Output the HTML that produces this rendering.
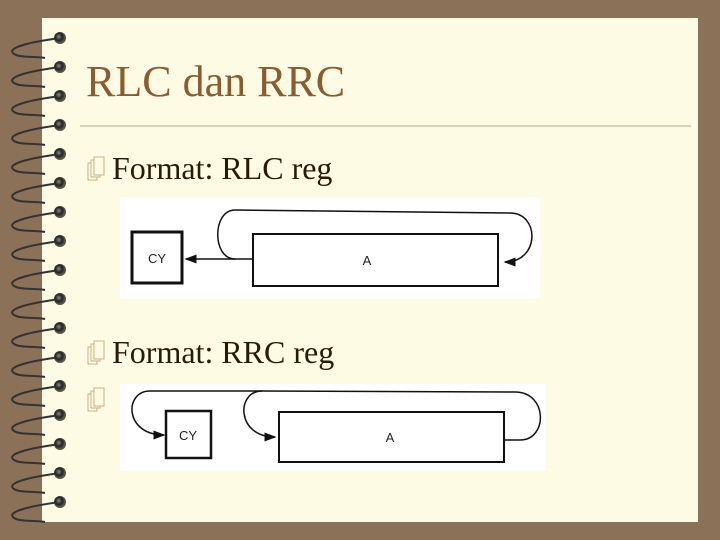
<!DOCTYPE html>
<html><head><style>
body{margin:0;width:720px;height:540px;background:#8c7159;position:relative;overflow:hidden;font-family:"Liberation Serif",serif}
.page{position:absolute;left:42px;top:18px;width:656px;height:504px;background:#fdfbe4}
.t{position:absolute;white-space:nowrap}
</style></head><body>
<div class="page"></div>
<svg width="720" height="540" style="position:absolute;left:0;top:0">
<defs><radialGradient id="b" cx="0.4" cy="0.4"><stop offset="0" stop-color="#888"/><stop offset="0.6" stop-color="#222"/><stop offset="1" stop-color="#554"/></radialGradient>
<marker id="ar" markerWidth="8" markerHeight="6" refX="7" refY="3" orient="auto"><path d="M0,0L8,3L0,6z" fill="#111"/></marker></defs>
<g fill="none" stroke="#333" stroke-width="2">
<path d="M60,38 C30,42 5,48 14,54 C20,58 35,56 45,58"/><path d="M60,67 C30,71 5,77 14,83 C20,87 35,85 45,87"/><path d="M60,96 C30,100 5,106 14,112 C20,116 35,114 45,116"/><path d="M60,125 C30,129 5,135 14,141 C20,145 35,143 45,145"/><path d="M60,154 C30,158 5,164 14,170 C20,174 35,172 45,174"/><path d="M60,183 C30,187 5,193 14,199 C20,203 35,201 45,203"/><path d="M60,212 C30,216 5,222 14,228 C20,232 35,230 45,232"/><path d="M60,241 C30,245 5,251 14,257 C20,261 35,259 45,261"/><path d="M60,270 C30,274 5,280 14,286 C20,290 35,288 45,290"/><path d="M60,299 C30,303 5,309 14,315 C20,319 35,317 45,319"/><path d="M60,328 C30,332 5,338 14,344 C20,348 35,346 45,348"/><path d="M60,357 C30,361 5,367 14,373 C20,377 35,375 45,377"/><path d="M60,386 C30,390 5,396 14,402 C20,406 35,404 45,406"/><path d="M60,415 C30,419 5,425 14,431 C20,435 35,433 45,435"/><path d="M60,444 C30,448 5,454 14,460 C20,464 35,462 45,464"/><path d="M60,473 C30,477 5,483 14,489 C20,493 35,491 45,493"/><path d="M60,502 C30,506 5,512 14,518 C20,522 35,520 45,522"/>
</g>
<g fill="url(#b)">
<circle cx="60" cy="38" r="6"/><circle cx="60" cy="67" r="6"/><circle cx="60" cy="96" r="6"/><circle cx="60" cy="125" r="6"/><circle cx="60" cy="154" r="6"/><circle cx="60" cy="183" r="6"/><circle cx="60" cy="212" r="6"/><circle cx="60" cy="241" r="6"/><circle cx="60" cy="270" r="6"/><circle cx="60" cy="299" r="6"/><circle cx="60" cy="328" r="6"/><circle cx="60" cy="357" r="6"/><circle cx="60" cy="386" r="6"/><circle cx="60" cy="415" r="6"/><circle cx="60" cy="444" r="6"/><circle cx="60" cy="473" r="6"/><circle cx="60" cy="502" r="6"/>
</g>
<line x1="80" y1="126" x2="691" y2="126" stroke="#b8a88a" stroke-width="1"/>
<rect x="120" y="197" width="420" height="102" fill="#fff"/>
<rect x="120" y="384" width="426" height="87" fill="#fff"/>
<g fill="none" stroke="#111">
<rect x="132" y="232" width="50" height="51" stroke-width="3"/>
<rect x="253" y="234" width="245" height="52" stroke-width="2"/>
<path d="M253,259 L186,259" stroke-width="1.5" marker-end="url(#ar)"/>
<path d="M235,259 C212,259 212,210 235,210 L510,213 C540,213 540,262 505,262" stroke-width="1.5" marker-end="url(#ar)"/>
<rect x="166" y="411" width="45" height="47" stroke-width="2.5"/>
<rect x="279" y="412" width="225" height="50" stroke-width="2"/>
<path d="M504,440 L520,440 C548,440 548,392 515,392 L262,391 C236,391 236,437 275,437" stroke-width="1.5" marker-end="url(#ar)"/>
<path d="M262,391 L150,391 C124,391 124,435 164,435" stroke-width="1.5" marker-end="url(#ar)"/>
</g>
<g font-family="Liberation Sans,sans-serif" font-size="13" fill="#222" text-anchor="middle">
<text x="157" y="263">CY</text><text x="367" y="265">A</text>
<text x="188" y="440">CY</text><text x="390" y="442">A</text>
</g>
<g fill="none" stroke="#c8b088" stroke-width="1">
<rect x="88" y="163" width="9" height="17"/><rect x="91" y="160" width="9" height="17" fill="#fdfbe4"/><rect x="94" y="157" width="10" height="18" fill="#fdfbe4"/>
<rect x="88" y="347" width="9" height="17"/><rect x="91" y="344" width="9" height="17" fill="#fdfbe4"/><rect x="94" y="341" width="10" height="18" fill="#fdfbe4"/>
<rect x="88" y="394" width="9" height="17"/><rect x="91" y="391" width="9" height="17" fill="#fdfbe4"/><rect x="94" y="388" width="10" height="18" fill="#fdfbe4"/>
</g>
</svg>
<div class="t" style="left:86px;top:56px;font-size:44px;color:#8a5c30">RLC dan RRC</div>
<div class="t" style="left:112px;top:150px;font-size:32px;color:#2a1a08">Format: RLC reg</div>
<div class="t" style="left:112px;top:334px;font-size:32px;color:#2a1a08">Format: RRC reg</div>
</body></html>
